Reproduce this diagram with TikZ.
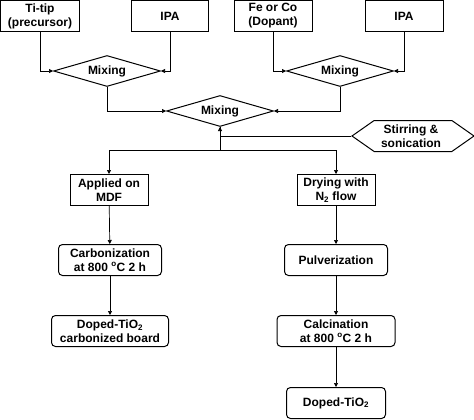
\documentclass[tikz,border=0pt]{standalone}
\usepackage{fontspec}
\setmainfont{Liberation Sans}
\usetikzlibrary{arrows.meta,shapes.geometric,shapes.symbols}
\begin{document}
\begin{tikzpicture}[x=1pt, y=-1pt,
  >={Triangle[length=4pt,width=4pt]},
  every node/.style={font=\fontsize{12}{14}\selectfont\bfseries, align=center},
  box/.style={draw, line width=1pt, minimum height=31pt, inner sep=0pt},
  rbox/.style={box, rounded corners=4pt},
  mix/.style={draw, line width=1pt, diamond, aspect=3.5, inner sep=0pt, minimum width=107pt, minimum height=31pt},
  conn/.style={line width=0.7pt}]
\useasboundingbox (0,0) rectangle (474,420);

% starting materials
\node[box, minimum width=79pt] (titip) at (40,16) {Ti-tip\\(precursor)};
\node[box, minimum width=77pt] (ipaA) at (170,16) {IPA};
\node[box, minimum width=78pt] (feco) at (273,16) {Fe or Co\\(Dopant)};
\node[box, minimum width=78pt] (ipaB) at (404,16) {IPA};

% mixing steps
\node[mix] (mixA) at (107,71) {Mixing};
\node[mix] (mixB) at (340,71) {Mixing};
\node[mix] (mixC) at (220,111) {Mixing};
\node[draw, line width=1pt, signal, signal to=west and east, signal pointer angle=70,
  inner sep=0pt, minimum width=122pt, minimum height=31pt] (stir) at (413,136) {};
\node (stirtxt) at (411,136) {Stirring \&\\sonication};

% two routes
\node[box, minimum width=78pt] (apply) at (109,190) {Applied on\\MDF};
\node[box, minimum width=78pt] (dry) at (336,190) {Drying with\\N\textsubscript{2} flow};
\node[rbox, minimum width=103pt] (carb) at (110,260) {Carbonization\\at 800 \textsuperscript{o}C 2 h};
\node[rbox, minimum width=103pt] (pulv) at (336,260) {Pulverization};
\node[rbox, minimum width=117pt] (board) at (110,331) {Doped-TiO\textsubscript{2}\\carbonized board};
\node[rbox, minimum width=118pt] (calc) at (336,331) {Calcination\\at 800 \textsuperscript{o}C 2 h};
\node[rbox, minimum width=99pt] (doped) at (336,403) {Doped-TiO\textsubscript{2}};

\coordinate (split) at (220,150);

\draw[conn,->] (titip.south) |- (mixA.west);
\draw[conn,->] (ipaA.south) |- (mixA.east);
\draw[conn,->] (feco.south) |- (mixB.west);
\draw[conn,->] (ipaB.south) |- (mixB.east);
\draw[conn,->] (mixA.south) |- (mixC.west);
\draw[conn,->] (mixB.south) |- (mixC.east);
\draw[conn,->] (stir.west) -| (mixC.south);
\draw[conn] (mixC.south) -- (split);
\draw[conn,->] (split) -| (apply.north);
\draw[conn,->] (split) -| (dry.north);
\draw[conn,->] (apply) -- (carb);
\draw[conn,->] (carb) -- (board);
\draw[conn,->] (dry) -- (pulv);
\draw[conn,->] (pulv) -- (calc);
\draw[conn,->] (calc) -- (doped);
\end{tikzpicture}
\end{document}
